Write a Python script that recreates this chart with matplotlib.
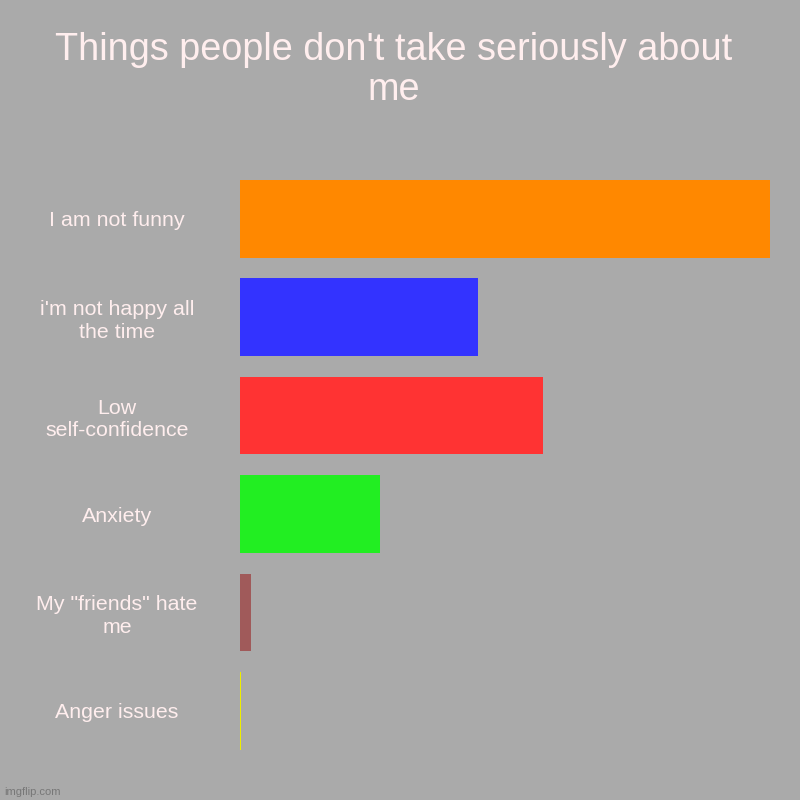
import matplotlib
matplotlib.use('Agg')
import matplotlib.pyplot as plt

labels = ['I am not funny', "i'm not happy all\nthe time", 'Low\nself-confidence',
          'Anxiety', 'My "friends" hate\nme', 'Anger issues']
values = [100, 45, 57.2, 26.5, 2.1, 0.2]
colors = ['#ff8800', '#3333ff', '#ff3333', '#22ee22', '#a05a5a', '#eeee00']

bg = '#aaaaaa'
txt = '#ffeeee'
plt.rcParams['font.family'] = ['Liberation Sans', 'DejaVu Sans']

fig = plt.figure(figsize=(8, 8), dpi=100, facecolor=bg)
ax = fig.add_axes([0.3, 0.05, 0.6625, 0.738])
ax.set_facecolor(bg)

y = list(range(len(labels)))
ax.barh(y, values, height=0.79, color=colors)
ax.set_xlim(0, max(values))
ax.set_ylim(len(labels) - 0.5, -0.5)
ax.set_yticks(y)
ax.set_yticklabels(labels, ha='center', color=txt, fontsize=15.4, linespacing=1.26)
ax.tick_params(axis='y', length=0, pad=88.5)
ax.set_xticks([])
for s in ax.spines.values():
    s.set_visible(False)

fig.text(0.4925, 0.9125, "Things people don't take seriously about\nme", ha='center', va='center',
         color=txt, fontsize=27.3, linespacing=1.16)
fig.text(0.005, 0.004, 'imgflip.com', color='#777777', fontsize=8, ha='left', va='bottom')

fig.savefig('out.png', dpi=100, facecolor=bg)
